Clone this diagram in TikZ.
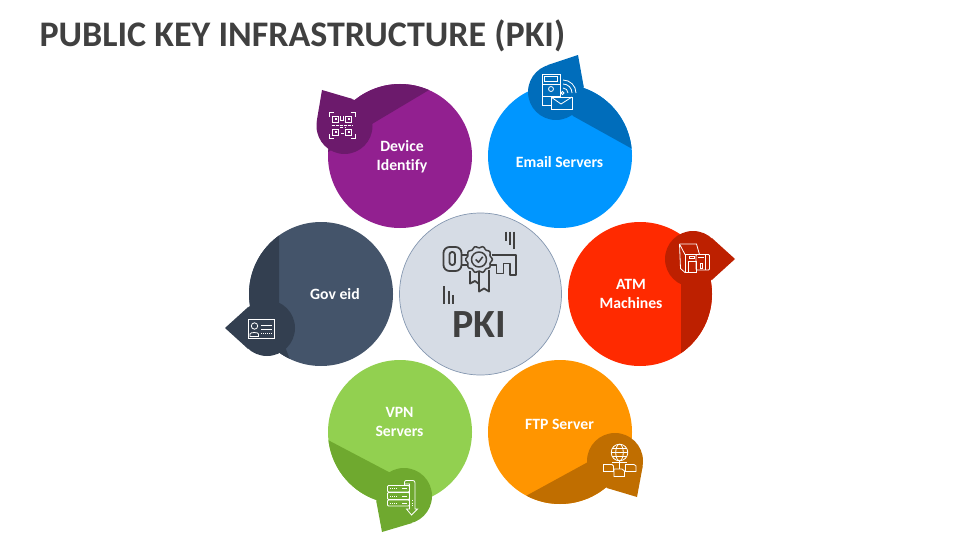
\documentclass[tikz,border=0pt]{standalone}
\usepackage{fontspec}
\setmainfont[Ligatures={NoCommon}]{Carlito}
\usetikzlibrary{calc}
\definecolor{purplemain}{HTML}{922090}
\definecolor{purpledark}{HTML}{6C1A6C}
\definecolor{bluemain}{HTML}{0096FF}
\definecolor{bluedark}{HTML}{006DBB}
\definecolor{redmain}{HTML}{FF2A00}
\definecolor{reddark}{HTML}{BD2000}
\definecolor{orangemain}{HTML}{FF9500}
\definecolor{orangedark}{HTML}{C06E00}
\definecolor{greenmain}{HTML}{92D050}
\definecolor{greendark}{HTML}{6FA92F}
\definecolor{slatemain}{HTML}{44546A}
\definecolor{slatedark}{HTML}{333F50}
\definecolor{hubfill}{HTML}{D6DCE5}
\definecolor{hubline}{HTML}{8497B0}
\definecolor{inktext}{HTML}{404040}
\tikzset
    {   petal/.style =
        {   circle
        ,   inner sep = 0pt
        ,   minimum size = 144pt
        ,   fill = #1
        }
    ,   dropcap/.style =
        {   circle
        ,   inner sep = 0pt
        ,   minimum size = 56pt
        ,   fill = #1
        }
    ,   petaltext/.style =
        {   align = center
        ,   text = white
        ,   font = \fontsize{15.7}{19}\selectfont\bfseries
        }
    ,   icon/.style =
        {   draw = white
        ,   line width = 0.8pt
        }
    ,   keyicon/.style =
        {   draw = inktext
        ,   line width = 1.8pt
        ,   line join = round
        }
    }
\begin{document}
\begin{tikzpicture}
        [   x = 1pt
        ,   y = -1pt
        ]
        \useasboundingbox (0,0) rectangle (960,540);
        \node[anchor = west, text = inktext, font = \fontsize{36}{40}\selectfont\bfseries] (title) at (36,36) {PUBLIC KEY INFRASTRUCTURE (PKI)};
        % petals with their dark segment and drop
        \foreach \name/\ctr/\mainc/\darkc/\segment/\dropc/\tipx/\tipy in
            {   device/{400,156}/purplemain/purpledark/{(372,124) -- (434,87) -- (434,60) -- (300,60) -- (300,170)}/{344.5,126}/322/90
            ,   email/{560,156}/bluemain/bluedark/{(573,116) -- (636,151) -- (640,70) -- (580,70) -- (556,92)}/{556,92}/578/55
            ,   atm/{640,294}/redmain/reddark/{(681,270) -- (681,370) -- (730,370) -- (730,220) -- (700,259)}/{693,259}/735/259
            ,   gov/{321,294}/slatemain/slatedark/{(279,330) -- (279,220) -- (230,220) -- (230,360) -- (290,360)}/{267,328}/225/328
            ,   vpn/{400,432}/greenmain/greendark/{(404,480) -- (326,439) -- (320,520) -- (420,520)}/{404,496}/382/532
            ,   ftp/{560,432}/orangemain/orangedark/{(588,462) -- (524,497) -- (530,520) -- (640,520) -- (640,440)}/{615,461}/637/497
            }
        {   \node[petal = \mainc] (\name) at (\ctr) {};
            \begin{scope}
                \clip (\ctr) circle (72);
                \fill[\darkc] \segment -- cycle;
            \end{scope}
            \node[dropcap = \darkc] (\name cap) at (\dropc) {};
            \coordinate (\name tip) at (\tipx,\tipy);
            \fill[\darkc] (\name tip)
                -- (tangent cs:node=\name cap,point={(\name tip)},solution=1)
                -- (tangent cs:node=\name cap,point={(\name tip)},solution=2)
                -- cycle;
        }
        \node[circle, inner sep = 0pt, minimum size = 162pt, fill = hubfill, draw = hubline, line width = 0.7pt] (hub) at (480.5,294) {};
        \node[text = inktext, font = \fontsize{40}{44}\selectfont\bfseries] (hubtext) at (479,325) {PKI};
        % labels
        \node[petaltext] (devicetext) at (402,156.5) {Device\\Identify};
        \node[petaltext] (emailtext) at (559.5,162.5) {Email Servers};
        \node[petaltext] (atmtext) at (631,294) {ATM\\Machines};
        \node[petaltext] (govtext) at (335,294.5) {Gov eid};
        \node[petaltext] (vpntext) at (399.5,422) {VPN\\Servers};
        \node[petaltext] (ftptext) at (559.5,424) {FTP Server};
        % key icon in the hub
        \draw[keyicon] (461.5,255) -- (466.5,255);
        \draw[keyicon] (461.5,265) -- (466.5,265);
        \draw[keyicon, rounded corners = 6pt] (443.5,247) rectangle (461.5,271);
        \draw[keyicon, rounded corners = 2.5pt] (449.5,252) rectangle (455,265);
        \draw[keyicon] (491.5,255) -- (516,255) -- (516,275) -- (510,275) -- (510,263.5) -- (503.5,263.5) -- (503.5,273.5) -- (496.5,273.5) -- (496.5,265) -- (490,265);
        \draw[keyicon] (470,271) -- (470,283.5) -- (475,281) -- (479,284) -- (479,272);
        \draw[keyicon] (479,272) -- (479,291.5) -- (484,288.5) -- (489,291.5) -- (489,270);
        \draw[keyicon, fill = hubfill, line width = 1.5pt] plot[smooth cycle, samples = 49, domain = 0:352.5] ({479+(12.5+0.9*cos(10*\x))*cos(\x)},{259.5+(12.5+0.9*cos(10*\x))*sin(\x)});
        \draw[keyicon, line width = 1.5pt] (479,259.5) circle (7.5);
        \draw[keyicon, line width = 1.5pt] (475.7,259.5) -- (478.5,262.3) -- (482.7,256.8);
        \foreach \barx/\bary in {505.7/240.5, 510/245, 514.3/249}
        {   \draw[keyicon, line width = 2pt] (\barx,231.7) -- (\barx,\bary);
        }
        \foreach \barx/\bary in {444.2/286, 448.5/291, 452.8/295}
        {   \draw[keyicon, line width = 2pt] (\barx,303.5) -- (\barx,\bary);
        }
        % qr code icon
        \draw[icon] (329.5,117) -- (329.5,112.5) -- (334,112.5);
        \draw[icon] (350.5,112.5) -- (355,112.5) -- (355,117);
        \draw[icon] (329.5,134) -- (329.5,138.5) -- (334,138.5);
        \draw[icon] (350.5,138.5) -- (355,138.5) -- (355,134);
        \foreach \qrx/\qry in {332.5/116, 345.5/116, 332.5/129.5, 345.5/129.5}
        {   \draw[icon] (\qrx,\qry) rectangle ++(6,6);
            \fill[white] (\qrx+2,\qry+2) rectangle ++(2,2);
        }
        \draw[icon, dash pattern = on 3pt off 1pt] (331.5,125.5) -- (353,125.5);
        \draw[icon, dash pattern = on 3pt off 1.5pt] (340,127.5) -- (345,127.5);
        \draw[icon] (340,116) -- (340,120) -- (343.5,120) -- (343.5,116);
        \draw[icon] (341,133) -- (344,133);
        % mail server icon
        \draw[icon] (542,74) rectangle (560,105);
        \draw[icon] (544.5,76.5) rectangle (557.5,81);
        \draw[icon] (542,84) -- (560,84);
        \draw[icon] (551,89) circle (2.5);
        \draw[icon] (542,96) -- (560,96);
        \draw[icon] (562.5,93) circle (1.5);
        \draw[icon] (563,88) arc (-90:0:5);
        \draw[icon] (563,84) arc (-90:0:9);
        \draw[icon] (563,80) arc (-90:0:13);
        \draw[icon, fill = bluedark] (551,97) rectangle (572,109);
        \draw[icon] (551,97) -- (561,104) -- (572,97);
        % atm icon
        \draw[icon] (679.5,244) -- (696.5,244) -- (699.5,254.5);
        \draw[icon] (679.5,244) -- (685,254.5) -- (699.5,254.5);
        \draw[icon] (679.5,244) -- (680.5,268.5) -- (685,272.5) -- (696,272.5);
        \draw[icon] (685,254.5) -- (685,272.5);
        \draw[icon] (689.5,256.5) rectangle (694.5,258.5);
        \draw[icon] (688,261) rectangle (696,272.5);
        \draw[icon, rounded corners = 1pt] (696,254.5) rectangle (709.5,270);
        \draw[icon] (705.5,254.5) -- (705.5,270);
        \draw[icon] (700,263) rectangle (702,268);
        \draw[icon] (698,257.5) -- (704,257.5);
        % id card icon
        \draw[icon] (248.5,319.5) rectangle (274.5,338.5);
        \draw[icon] (254.5,326) circle (3.2);
        \draw[icon] (250,336.5) -- (250,334) .. controls (250,332) and (258.5,332) .. (258.5,334) -- (258.5,336.5) -- cycle;
        \draw[icon] (261,325) -- (272,325);
        \draw[icon] (261,329) -- (272,329);
        \draw[icon, dash pattern = on 1pt off 1pt] (261,333) -- (272,333);
        % rack icon
        \draw[icon, rounded corners = 1pt] (387.5,485.5) rectangle (409.5,492);
        \draw[icon, rounded corners = 1pt] (387.5,492.5) rectangle (409.5,499.5);
        \draw[icon, rounded corners = 1pt] (387.5,500) rectangle (409.5,506);
        \foreach \racky in {488.7, 496, 503}
        {   \draw[icon, dash pattern = on 1pt off 1pt] (390,\racky) -- (398,\racky);
            \draw[icon] (402,\racky) -- (407,\racky);
        }
        \draw[icon] (404.5,485) -- (404.5,482) .. controls (404.5,480.5) and (406,480.5) .. (407,480.5) -- (413,480.5) .. controls (414.5,480.5) and (415,481.5) .. (415,483) -- (415,509) -- (417.5,509) -- (411.5,515) -- (406.5,509) -- (409.5,509) -- (409.5,484) -- (404.5,484);
        \draw[icon, dash pattern = on 1pt off 1.5pt] (412.3,500) -- (412.3,507);
        % network folder icon
        \draw[icon] (619.5,452.5) circle (8.3);
        \draw[icon] (619.5,452.5) ellipse (3.8 and 8.3);
        \draw[icon] (611.2,452.5) -- (627.8,452.5);
        \draw[icon] (612,448.5) -- (627,448.5);
        \draw[icon] (612,456.5) -- (627,456.5);
        \draw[icon] (619.5,461) -- (619.5,469);
        \draw[icon] (612,462.7) -- (627,462.7);
        \draw[icon] (603.5,464.5) -- (612,464.5) -- (613.5,466) -- (613.5,471.5) -- (603.5,471.5) -- cycle;
        \draw[icon] (625.5,464.5) -- (634,464.5) -- (636,466) -- (636,471.5) -- (625.5,471.5) -- cycle;
        \draw[icon] (614,469) -- (622,469) -- (624.5,471) -- (624.5,476.5) -- (614,476.5) -- cycle;
    \end{tikzpicture}
\end{document}
